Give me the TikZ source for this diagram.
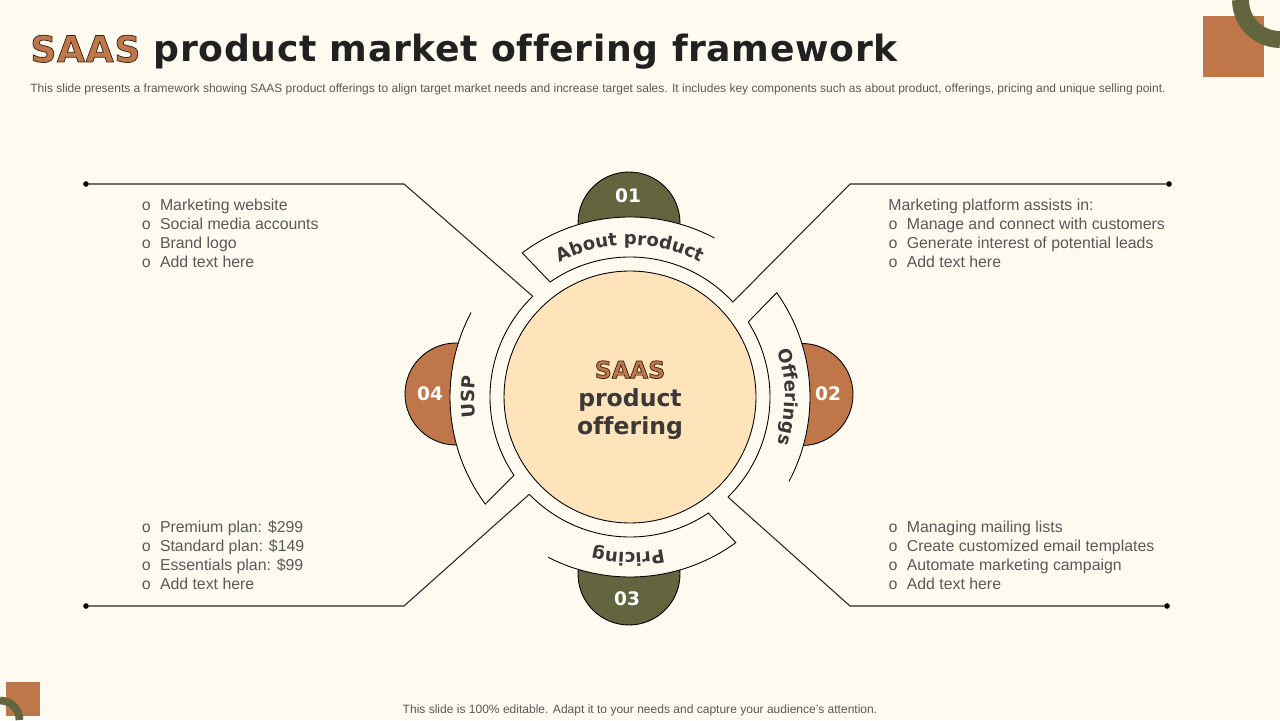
\documentclass[tikz,border=0pt]{standalone}
\usepackage{fontspec}
\setmainfont{Liberation Sans}
\setmonofont{Liberation Mono}
\newfontfamily\headfont[LetterSpace=1.8,Ligatures=NoCommon]{DejaVu Sans Bold}
\newfontfamily\ringfont[Ligatures=NoCommon]{DejaVu Sans Bold}
\usetikzlibrary{decorations.text}
\definecolor{saas_bg}{RGB}{255, 250, 240}
\definecolor{saas_orange}{RGB}{191, 119, 74}
\definecolor{saas_olive}{RGB}{98, 101, 62}
\definecolor{saas_hub}{RGB}{254, 227, 187}
\definecolor{saas_ink}{RGB}{58, 56, 56}
\definecolor{saas_gray}{RGB}{89, 89, 89}
\tikzstyle{badge}=[circle,draw=black,line width=0.5pt,inner sep=0pt,minimum size=2.04cm]
\tikzstyle{num}=[text=white,font=\ringfont\fontsize{10.6}{12}\selectfont,inner sep=0pt]
\tikzstyle{dot}=[circle,fill=black,inner sep=0pt,minimum size=3.2pt]
\tikzstyle{leader}=[draw=black!85,line width=0.6pt]
\tikzstyle{itemlist}=[anchor=north west,align=left,inner sep=0pt,text=saas_gray,
  font=\fontsize{9.02}{10.77}\selectfont]
\tikzstyle{seg}=[draw=black,line width=0.5pt]
\newcommand{\itm}{\makebox[10.5pt][l]{\ttfamily o}}
\newcommand{\saasmark}{{\color{saas_orange}\special{pdf: code q 2 Tr 0.4 w 0.2 0.13 0.08 RG}SAAS\special{pdf: code Q}}}
% ring piece: inner arc #1 to #2, end line, outer arc #3 back to #4
\newcommand{\ringseg}[4]{
  \fill[saas_bg] (#1:140) arc[start angle=#1,end angle=#2,radius=140]
    -- (#3:180) arc[start angle=#3,end angle=#4,radius=180] -- cycle;
  \draw[style=seg] (#1:140) arc[start angle=#1,end angle=#2,radius=140]
    -- (#3:180) arc[start angle=#3,end angle=#4,radius=180];
}
\newcommand{\ringlabel}[4]{
  \path[decorate,decoration={text along path,text align=center,
    text={|\ringfont\fontsize{10.3}{12}\selectfont\color{saas_ink}|#4}}]
    (#1:#3) arc[start angle=#1,end angle=#2,radius=#3];
}

\begin{document}
\begin{tikzpicture}[x=0.02cm,y=0.02cm]
    \useasboundingbox (0,0) rectangle (1280,720);
    \fill[saas_bg] (0,0) rectangle (1280,720);

    % corners
    \fill[saas_orange] (1203,643) rectangle (1264,704);
    \draw[saas_olive,line width=9.6pt] (1240.5,720) arc[start angle=180,end angle=270,radius=39.5];
    \fill[saas_orange] (6,4) rectangle (40,38);
    \draw[saas_olive,line width=4.4pt] (0,19.5) arc[start angle=90,end angle=0,radius=19.5];

    % heading
    \node [anchor=base west,inner sep=0pt,text=black!87,font=\headfont\fontsize{20.6}{24}\selectfont]
      (title) at (30,658) {\saasmark{} product market offering framework};
    \node [anchor=base west,inner sep=0pt,text=saas_gray,font=\fontsize{6.83}{8}\selectfont]
      (subtitle) at (30,627) {This slide presents a framework showing SAAS product offerings to align target market needs and increase target sales. It includes key components such as about product, offerings, pricing and unique selling point.};
    \node [inner sep=0pt,text=saas_gray,font=\fontsize{6.85}{8}\selectfont]
      (footer) at (640,9.5) {This slide is 100\% editable. Adapt it to your needs and capture your audience's attention.};

    % badges behind the ring
    \node [style=badge,fill=saas_olive] (badge1) at (629,497) {};
    \node [style=badge,fill=saas_orange] (badge2) at (802,325.5) {};
    \node [style=badge,fill=saas_olive] (badge3) at (629,146) {};
    \node [style=badge,fill=saas_orange] (badge4) at (456,326) {};
    \node [style=num] (num1) at (628,524) {01};
    \node [style=num] (num2) at (828,326) {02};
    \node [style=num] (num3) at (627,121) {03};
    \node [style=num] (num4) at (430,326) {04};

    \begin{scope}[shift={(630,323)}]
      \fill[saas_bg] (0,0) circle (140);
      \ringseg{42.7}{124.8}{126.8}{62}
      \ringseg{134}{214}{216.5}{152}
      \ringseg{224}{304}{306}{243}
      \ringseg{-45.6}{32.4}{35.4}{-28}
      \ringlabel{135}{45}{152}{About product}
      \ringlabel{225}{135}{155.5}{USP}
      \ringlabel{314.3}{224.3}{155.5}{Pricing}
      \ringlabel{45}{-45}{155}{Offerings}
      \coordinate (endTL) at (134:140);
      \coordinate (endTR) at (42.7:140);
      \coordinate (endBL) at (224:140);
      \coordinate (endBR) at (-45.6:140);
    \end{scope}

    \node [circle,fill=saas_hub,draw=black,line width=0.5pt,minimum size=5.04cm,inner sep=0pt] (hub) at (630,323) {};
    \node [align=center,inner sep=0pt,text=saas_ink,font=\ringfont\fontsize{13.4}{15.9}\selectfont]
      (hubtext) at (630,320) {\saasmark\\product\\offering};

    % leaders
    \node [style=dot] (dotTL) at (86,536) {};
    \node [style=dot] (dotTR) at (1169,536) {};
    \node [style=dot] (dotBL) at (86,114) {};
    \node [style=dot] (dotBR) at (1167,114) {};
    \coordinate (kneeTL) at (404,536);
    \coordinate (kneeTR) at (850,536);
    \coordinate (kneeBL) at (404,114);
    \coordinate (kneeBR) at (850,114);
    \draw [style=leader] (dotTL) -- (kneeTL) -- (endTL);
    \draw [style=leader] (dotTR) -- (kneeTR) -- (endTR);
    \draw [style=leader] (dotBL) -- (kneeBL) -- (endBL);
    \draw [style=leader] (dotBR) -- (kneeBR) -- (endBR);

    % lists
    \node [style=itemlist] (listTL) at (141.2,521.5) {\itm Marketing website\\\itm Social media accounts\\\itm Brand logo\\\itm Add text here};
    \node [style=itemlist] (listTR) at (888,521.5) {Marketing platform assists in:\\\itm Manage and connect with customers\\\itm Generate interest of potential leads\\\itm Add text here};
    \node [style=itemlist] (listBL) at (141.2,199.5) {\itm Premium plan: \$299\\\itm Standard plan: \$149\\\itm Essentials plan: \$99\\\itm Add text here};
    \node [style=itemlist] (listBR) at (888,199.5) {\itm Managing mailing lists\\\itm Create customized email templates\\\itm Automate marketing campaign\\\itm Add text here};
  \end{tikzpicture}
\end{document}
